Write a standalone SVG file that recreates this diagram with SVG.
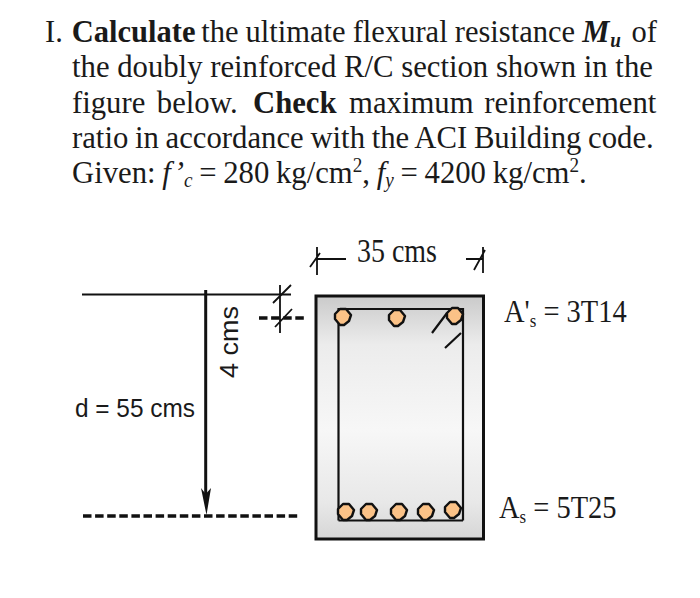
<svg xmlns="http://www.w3.org/2000/svg" width="700" height="598" viewBox="0 0 700 598">
<style>
.t{font-family:"Liberation Serif","Times New Roman",serif;font-size:32px;fill:#1a1a1a}
.s{font-family:"Liberation Sans",Arial,sans-serif;font-size:26px;fill:#1a1a1a}
.d{font-family:"Liberation Serif","Times New Roman",serif;font-size:32px;fill:#1a1a1a}
.l{stroke:#111;fill:none;stroke-width:1.8}
.h{stroke:#111;fill:none;stroke-width:2.200}
.dash{stroke:#111;fill:none;stroke-width:3.5;stroke-dasharray:8.5 3.6}
.b{fill:#fbc287;stroke:#111;stroke-width:2.400;stroke-linejoin:round}
</style>
<defs>
<linearGradient id="g" x1="0" y1="0" x2="0" y2="1">
<stop offset="0" stop-color="#cacaca"/><stop offset=".2" stop-color="#ececec"/><stop offset=".55" stop-color="#f7f7f7"/><stop offset=".85" stop-color="#e8e8e8"/><stop offset="1" stop-color="#d6d6d6"/>
</linearGradient>
<polygon id="bar" class="b" points="-3,-8 3,-8 8,-2 6,4 1,8 -3,8 -8,2 -8,-3"/>
</defs>
<g id="problem-text">
<text class="t" x="45" y="42" transform="translate(45 0) scale(.955 1) translate(-45 0)">I. <tspan font-weight="bold" x="73">Calculate</tspan><tspan dx="-1.500" word-spacing="-.6"> the ultimate flexural resistance </tspan><tspan font-weight="bold" font-style="italic">M</tspan><tspan font-weight="bold" font-style="italic" font-size="20" dy="5" dx="1">u</tspan><tspan dy="-5" dx="3"> of</tspan></text>
<text class="t" x="72" y="77" transform="translate(72 0) scale(.96 1) translate(-72 0)">the doubly reinforced R/C section shown in the</text>
<text class="t" x="72" y="113" word-spacing="4" transform="translate(72 0) scale(.96 1) translate(-72 0)">figure below. <tspan font-weight="bold" dx="4">Check</tspan> <tspan dx="1">maximum</tspan> <tspan dx="-1">reinforcement</tspan></text>
<text class="t" x="72" y="148" word-spacing="-1" transform="translate(72 0) scale(.96 1) translate(-72 0)">ratio in accordance with the ACI Building code.</text>
<text class="t" x="72" y="183" word-spacing="-1" transform="translate(72 0) scale(.96 1) translate(-72 0)">Given: <tspan font-style="italic">f’</tspan><tspan font-style="italic" font-size="20" dy="4">c</tspan><tspan dy="-4"> = 280 kg/cm</tspan><tspan font-size="20" dy="-11">2</tspan><tspan dy="11">, </tspan><tspan font-style="italic">f</tspan><tspan font-style="italic" font-size="20" dy="4">y</tspan><tspan dy="-4"> = 4200 kg/cm</tspan><tspan font-size="20" dy="-11">2</tspan><tspan dy="11">.</tspan></text>
</g>
<g id="beam-section">
<rect x="316" y="296" width="167.500" height="243" fill="url(#g)" stroke="#111" stroke-width="3"/>
<path class="h" d="M338.500 520.500V309H463V520.500"/>
<path class="h" d="M338.500 520.500H463"/>
<path class="h" d="M432 333L447 313M445 348L461 333"/>
</g>
<g id="top-bars">
<use href="#bar" x="343" y="317"/><use href="#bar" x="397" y="318"/><use href="#bar" x="455" y="316"/>
</g>
<g id="bottom-bars">
<use href="#bar" x="346" y="512"/><use href="#bar" x="369" y="512"/><use href="#bar" x="399" y="512"/><use href="#bar" x="426" y="512"/><use href="#bar" x="453" y="510"/>
</g>
<g id="connectors">
<path class="l" d="M82 294.500H291"/>
<path d="M205.700 290V500" stroke="#111" stroke-width="3" fill="none"/>
<polygon points="201,488 205.700,494 211,488 206.500,515" fill="#111"/>
<path class="dash" d="M83 516H298"/>
<path class="dash" d="M259 318H305"/>
<path class="l" d="M280 285V333M273 303L291 285M275 327L292 309"/>
<path class="l" d="M317 259H346M317 247V275M310 267L320 253M466 259H483M483 247V273M474 270L485 250"/>
</g>
<g id="labels">
<text class="d" x="357" y="262" textLength="80" lengthAdjust="spacingAndGlyphs" style="font-size:34px">35 cms</text>
<text class="s" x="75" y="417" textLength="120" lengthAdjust="spacingAndGlyphs">d = 55 cms</text>
<text class="s" transform="translate(238 378) rotate(-90)" textLength="72" lengthAdjust="spacingAndGlyphs">4 cms</text>
<text class="d" transform="translate(504 322) scale(.89 1)">A'<tspan font-size="19" dy="5">s</tspan><tspan dy="-5"> = 3T14</tspan></text>
<text class="d" transform="translate(499 518) scale(.89 1)">A<tspan font-size="19" dy="5">s</tspan><tspan dy="-5"> = 5T25</tspan></text>
</g>
</svg>
